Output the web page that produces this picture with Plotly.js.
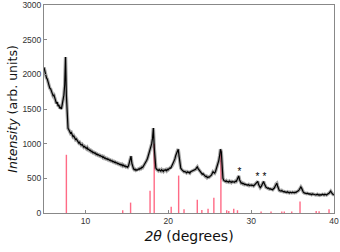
<!DOCTYPE html>
<html>
<head>
<meta charset="utf-8">
<script src="https://cdn.plot.ly/plotly-3.0.1.min.js"></script>
<style>html,body{margin:0;padding:0;background:#fff;}#chart{width:340px;height:252px;}</style>
</head>
<body>
<div id="chart"></div>
<script>
// 2-theta scan: start, step (degrees)
var scanStart = 5.0;
var scanStep = 0.1;
// measured intensity (arb. units), 5.0 to 40.0 deg
var intensity = [
2100,2040,2010,1950,1930,1880,1860,1800,1790,1760,
1740,1690,1700,1640,1620,1580,1600,1540,1560,1510,
1530,1500,1560,1620,1700,1850,2250,1700,1300,1220,
1200,1170,1150,1160,1120,1100,1110,1080,1060,1070,
1040,1030,1010,1020,990,980,990,960,950,960,
940,930,945,915,920,900,905,885,890,870,
875,860,865,845,850,835,840,825,830,815,
820,800,810,790,795,780,785,770,775,760,
765,750,755,740,745,730,735,720,725,710,
715,700,705,690,700,680,690,675,680,665,
670,660,680,720,790,820,720,660,640,625,
630,615,625,620,635,630,645,640,660,655,
675,690,700,730,760,790,830,880,920,960,
1000,1080,1225,950,720,650,630,620,610,625,
615,605,625,610,600,620,615,625,610,630,
625,640,650,645,670,690,710,740,780,830,
860,900,920,820,700,650,630,610,605,595,
600,590,580,595,585,590,575,595,600,610,
605,620,615,630,650,665,640,620,600,590,
580,560,565,545,540,525,530,510,520,515,
525,530,545,570,595,585,575,600,640,680,
700,760,830,920,880,640,500,470,460,455,
465,450,455,445,460,450,440,455,445,450,
445,460,455,480,510,535,480,445,430,435,
420,425,410,415,405,410,400,410,395,400,
405,395,400,390,405,415,430,450,455,410,
375,365,380,410,440,455,420,385,370,365,
355,360,345,350,340,345,335,350,360,385,
420,430,385,345,325,320,315,325,310,305,
310,300,305,295,305,300,290,300,295,290,
300,295,290,300,295,305,310,320,335,360,
375,355,320,300,290,285,290,280,285,275,
280,270,275,265,275,270,265,270,260,265,
270,260,265,255,265,260,270,265,260,270,
265,260,270,275,285,300,315,295,275,265,
260
];
// reference pattern sticks
var refPos = [7.7,14.5,15.45,17.8,18.3,20.35,21.25,21.9,23.5,24.05,24.8,25.5,26.35,27.05,27.3,27.9,28.35,31.2,32.4,33.7,34.0,34.9,35.9,37.85,38.2,39.4];
var refInt = [840,40,150,320,1000,90,540,55,190,45,60,220,900,40,30,60,40,20,20,20,20,20,165,30,25,55];
// impurity marks
var starPos = [28.6,30.75,31.6];
var starInt = [580,510,505];
var xTicks = [10,20,30,40];
var yTicks = [0,500,1000,1500,2000,2500,3000];

var twoTheta = intensity.map(function(_, i){ return +(scanStart + i*scanStep).toFixed(2); });

var traces = [
  {type:'bar', x:refPos, y:refInt, width:0.17, marker:{color:'#ff6b86', line:{width:0}}, hoverinfo:'skip'},
  {type:'scatter', mode:'lines', x:twoTheta, y:intensity, line:{color:'rgba(0,0,0,0.35)', width:3.4}, hoverinfo:'skip'},
  {type:'scatter', mode:'lines', x:twoTheta, y:intensity, line:{color:'#000', width:1.2}, hoverinfo:'skip'},
  {type:'scatter', mode:'text', x:starPos, y:starInt, text:starPos.map(function(){return '*';}), textfont:{family:'Liberation Sans', size:10, color:'#000'}, hoverinfo:'skip'}
];
var axisFont = {family:'Liberation Sans, Arial, sans-serif', size:8.5, color:'#333'};
var layout = {
  width:340, height:252,
  margin:{l:44, r:6, t:5, b:39},
  showlegend:false,
  paper_bgcolor:'#fff', plot_bgcolor:'#fff',
  barmode:'overlay',
  xaxis:{range:[5,40], tickvals:xTicks, ticktext:xTicks.map(String), ticks:'inside', ticklen:3, tickcolor:'#888',
    showline:true, linecolor:'#888', linewidth:1, mirror:true, showgrid:false, zeroline:false, tickfont:axisFont,
    title:{text:'<i>2θ</i> (degrees)', font:{family:'DejaVu Sans, sans-serif', size:14, color:'#111'}, standoff:5}},
  yaxis:{range:[0,3000.5], tickvals:yTicks, ticktext:yTicks.map(String), ticks:'inside', ticklen:3, tickcolor:'#888',
    showline:true, linecolor:'#888', linewidth:1, mirror:true, showgrid:false, zeroline:false, tickfont:axisFont,
    title:{text:'<i>Intensity</i> (arb. units)', font:{family:'DejaVu Sans, sans-serif', size:12.5, color:'#111'}, standoff:2}}
};
Plotly.newPlot('chart', traces, layout, {displayModeBar:false, staticPlot:true});
</script>
</body>
</html>
